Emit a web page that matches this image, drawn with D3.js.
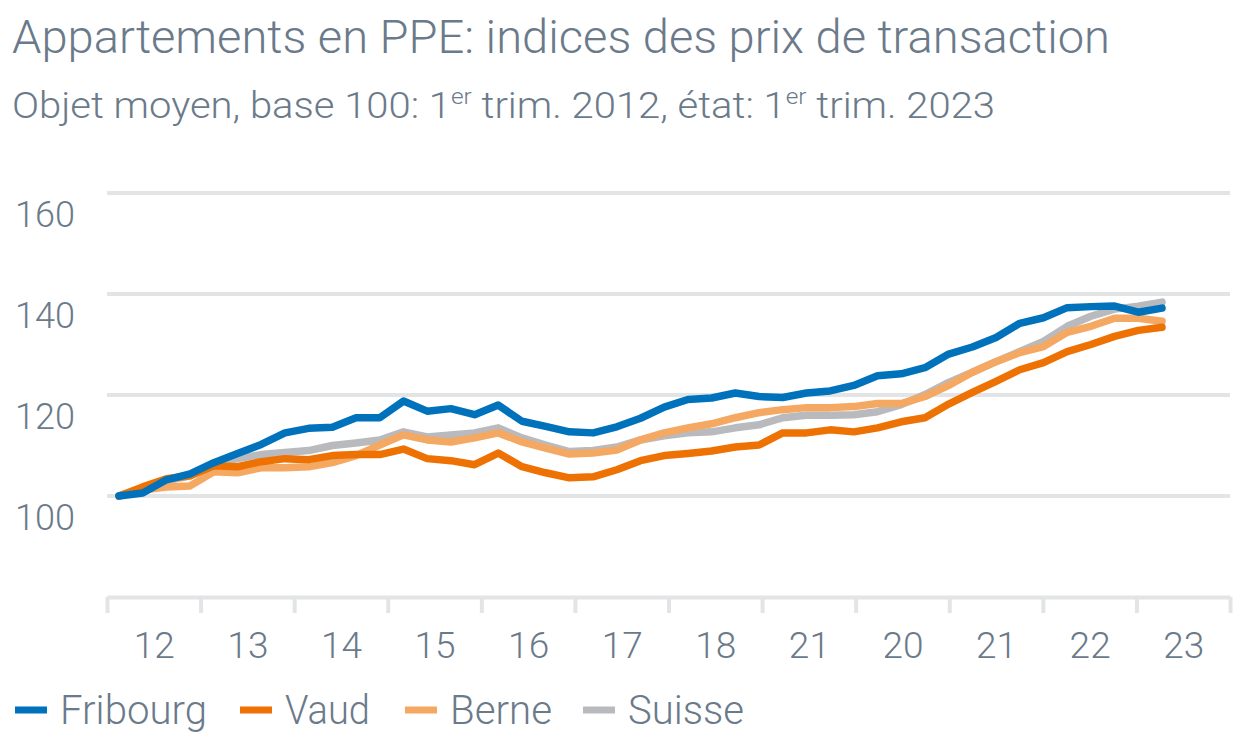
<!DOCTYPE html>
<html>
<head>
<meta charset="utf-8">
<script src="https://cdn.jsdelivr.net/npm/d3@7"></script>
<style>
  body { margin: 0; background: #fff; }
  text { font-family: Roboto, "Liberation Sans", sans-serif; font-weight: 300; fill: #6b7a8a; }
</style>
</head>
<body>
<svg id="chart" width="1238" height="747"></svg>
<script>
// quarterly index, Q1 2012 .. Q1 2023
var fribourg = [100, 100.6, 103.2, 104.4, 106.6, 108.4, 110.2, 112.5, 113.4, 113.6, 115.5, 115.5,
  118.8, 116.8, 117.3, 116.1, 118, 114.8, 113.8, 112.7, 112.5, 113.7, 115.4, 117.6,
  119.1, 119.4, 120.4, 119.7, 119.5, 120.4, 120.8, 121.9, 123.8, 124.2, 125.4, 128.1,
  129.5, 131.4, 134.2, 135.3, 137.3, 137.5, 137.6, 136.4, 137.2];
var vaud = [100, 101.8, 103.4, 104, 106, 105.8, 106.8, 107.4, 107.2, 108, 108.2, 108.2,
  109.3, 107.4, 107, 106.2, 108.5, 105.8, 104.6, 103.6, 103.8, 105.2, 107, 108,
  108.4, 108.9, 109.7, 110.1, 112.5, 112.5, 113.1, 112.7, 113.5, 114.7, 115.5, 118.2,
  120.5, 122.7, 125, 126.4, 128.6, 130, 131.6, 132.8, 133.4];
var berne = [100, 101.2, 101.8, 102, 104.8, 104.6, 105.6, 105.6, 105.8, 106.6, 108, 110.1,
  112.1, 111.1, 110.7, 111.5, 112.5, 110.7, 109.5, 108.3, 108.5, 109.1, 111.1, 112.5,
  113.5, 114.3, 115.5, 116.5, 117.1, 117.5, 117.5, 117.7, 118.3, 118.3, 119.7, 121.9,
  124.5, 126.6, 128.4, 129.6, 132.4, 133.6, 135.2, 135.2, 134.6];
var suisse = [100, 101.5, 103, 104, 106.4, 107.4, 108.2, 108.6, 109, 110, 110.5, 111.1,
  112.7, 111.7, 112.1, 112.5, 113.5, 111.5, 110.1, 108.8, 109, 109.7, 111.1, 111.9,
  112.5, 112.7, 113.5, 114.1, 115.5, 116, 116, 116.1, 116.7, 118.1, 120.1, 122.5,
  124.5, 126.6, 128.6, 130.6, 133.6, 135.6, 137, 137.6, 138.4];

var seriesNames = ["Fribourg", "Vaud", "Berne", "Suisse"];
var seriesColors = ["#0072bc", "#ee7203", "#f4a862", "#b9babd"];
var yearLabels = ["12", "13", "14", "15", "16", "17", "18", "21", "20", "21", "22", "23"];
var yTicks = [100, 120, 140, 160];

var svg = d3.select("#chart");
var gridColor = "#e3e4e6";

var x = d3.scaleLinear().domain([0, fribourg.length - 1]).range([119, 1162]);
var xYear = d3.scaleLinear().domain([0, yearLabels.length]).range([107, 1230]);
var y = d3.scaleLinear().domain([80, 160]).range([597, 193]);

// title
svg.append("text")
  .attr("x", 12).attr("y", 53)
  .attr("font-size", 46)
  .attr("textLength", 1098).attr("lengthAdjust", "spacingAndGlyphs")
  .text("Appartements en PPE: indices des prix de transaction");

var sub = svg.append("text")
  .attr("x", 12).attr("y", 118)
  .attr("font-size", 36)
  .attr("textLength", 983).attr("lengthAdjust", "spacingAndGlyphs");
sub.append("tspan").text("Objet moyen, base 100: 1");
sub.append("tspan").attr("font-size", 22).attr("dy", -14).text("er");
sub.append("tspan").attr("dy", 14).text(" trim. 2012, état: 1");
sub.append("tspan").attr("font-size", 22).attr("dy", -14).text("er");
sub.append("tspan").attr("dy", 14).text(" trim. 2023");

// gridlines
svg.append("g").selectAll("line")
  .data(yTicks).enter().append("line")
  .attr("x1", 107).attr("x2", 1230)
  .attr("y1", function (d) { return y(d); })
  .attr("y2", function (d) { return y(d); })
  .attr("stroke", gridColor).attr("stroke-width", 4);

svg.append("g").selectAll("text")
  .data(yTicks).enter().append("text")
  .attr("x", 15)
  .attr("y", function (d) { return y(d) + 34; })
  .attr("font-size", 36)
  .text(function (d) { return d; });

// x axis: tick marks on year boundaries, labels centered
var tickAxis = d3.axisBottom(xYear)
  .tickValues(d3.range(yearLabels.length + 1))
  .tickSize(16).tickSizeOuter(0).tickFormat("");
var gx = svg.append("g").attr("transform", "translate(0," + y(80) + ")").call(tickAxis);
gx.select(".domain").attr("stroke", gridColor).attr("stroke-width", 4);
gx.selectAll(".tick line").attr("stroke", gridColor).attr("stroke-width", 4);

var labelAxis = d3.axisBottom(xYear)
  .tickValues(d3.range(yearLabels.length).map(function (i) { return i + 0.5; }))
  .tickSize(0)
  .tickFormat(function (d) { return yearLabels[Math.floor(d)]; });
var gl = svg.append("g").attr("transform", "translate(0," + y(80) + ")").call(labelAxis);
gl.select(".domain").remove();
gl.selectAll("text")
  .attr("font-size", 37).attr("font-family", null)
  .attr("dy", null).attr("y", 61);
gl.attr("font-family", null).attr("font-size", null);

// lines
var line = d3.line()
  .x(function (d, i) { return x(i); })
  .y(function (d) { return y(d); });

var allSeries = [fribourg, vaud, berne, suisse];
var drawOrder = [3, 2, 1, 0];
svg.append("g").selectAll("path")
  .data(drawOrder).enter().append("path")
  .attr("d", function (k) { return line(allSeries[k]); })
  .attr("fill", "none")
  .attr("stroke", function (k) { return seriesColors[k]; })
  .attr("stroke-width", 7.5)
  .attr("stroke-linejoin", "round")
  .attr("stroke-linecap", "round");

// legend
var legendX = [15, 240, 405, 583];
var legendW = [147, 85, 102, 116];
var lg = svg.append("g").selectAll("g")
  .data(seriesNames).enter().append("g")
  .attr("transform", function (d, i) { return "translate(" + legendX[i] + ",710)"; });
lg.append("rect")
  .attr("x", 0).attr("y", -3.5).attr("width", 32).attr("height", 7)
  .attr("fill", function (d, i) { return seriesColors[i]; });
lg.append("text")
  .attr("x", 45).attr("y", 14)
  .attr("font-size", 40)
  .attr("textLength", function (d, i) { return legendW[i]; })
  .attr("lengthAdjust", "spacingAndGlyphs")
  .text(function (d) { return d; });
</script>
</body>
</html>
